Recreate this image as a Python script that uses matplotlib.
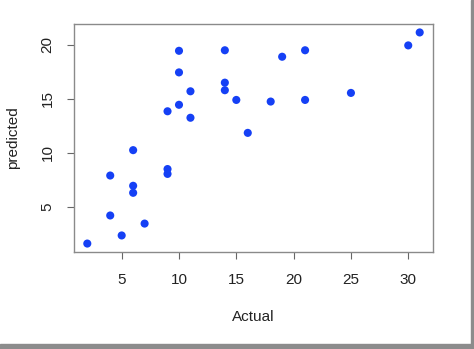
"""Scatter of predicted vs actual values, R base-graphics look."""
import matplotlib
matplotlib.use("Agg")
import matplotlib.pyplot as plt
from matplotlib.patches import Rectangle

OUT_PATH = "out.png"

actual = [2, 4, 4, 5, 6, 6, 6, 7, 9, 9, 9, 10, 10, 10, 11, 11,
          14, 14, 14, 15, 16, 18, 19, 21, 21, 25, 30, 31]
predicted = [1.6, 7.9, 4.2, 2.35, 10.25, 6.95, 6.3, 3.45, 13.85, 8.5, 8.05,
             19.45, 17.45, 14.45, 15.7, 13.25, 19.5, 16.5, 15.8, 14.9, 11.85,
             14.75, 18.9, 19.5, 14.9, 15.55, 19.95, 21.15]
x_ticks = [5, 10, 15, 20, 25, 30]
y_ticks = [5, 10, 15, 20]

plt.rcParams["font.family"] = ["Liberation Sans", "DejaVu Sans"]

fig = plt.figure(figsize=(4.74, 3.49), dpi=100)
ax = fig.add_axes((74 / 474, 97 / 349, 359 / 474, 228 / 349))

ax.scatter(actual, predicted, s=34, color="#1540f5", edgecolors="none", zorder=3)

# R pads the data range by 4% on each side
x_pad = (max(actual) - min(actual)) * 0.04
y_pad = (max(predicted) - min(predicted)) * 0.04
ax.set_xlim(min(actual) - x_pad, max(actual) + x_pad)
ax.set_ylim(min(predicted) - y_pad, max(predicted) + y_pad)

ax.set_xticks(x_ticks)
ax.set_yticks(y_ticks)
ax.set_yticklabels([str(v) for v in y_ticks], rotation=90, va="center")
ax.tick_params(axis="x", length=5, width=0.8, color="#666666", pad=10,
               labelsize=11, labelcolor="#222222")
ax.tick_params(axis="y", length=5, width=0.8, color="#666666", pad=9,
               labelsize=11, labelcolor="#222222")
for sp in ax.spines.values():
    sp.set_color("#8a8a8a")
    sp.set_linewidth(1.0)

ax.set_xlabel("Actual", fontsize=11, color="#222222", labelpad=17)
ax.set_ylabel("predicted", fontsize=11, color="#222222", labelpad=15)

# grey frame around the screenshot (right and bottom edges)
fig.patches.append(Rectangle((471 / 474, 0), 3 / 474, 1,
                             transform=fig.transFigure, color="#8c8c8c"))
fig.patches.append(Rectangle((0, 0), 1, 5 / 349,
                             transform=fig.transFigure, color="#8c8c8c"))

fig.savefig(OUT_PATH, dpi=100)
